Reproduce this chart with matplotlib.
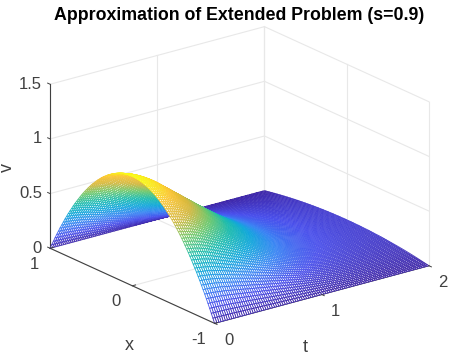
import numpy as np
import matplotlib
matplotlib.use('Agg')
import matplotlib.pyplot as plt
import matplotlib.colors as mcolors
from mpl_toolkits.mplot3d import proj3d

plt.rcParams['font.family'] = ['Liberation Sans', 'DejaVu Sans']

X_PROFILE = [1.000, 1.000, .998, .996, .994, .990, .986, .980, .974, .968,
             .960, .952, .942, .932, .922, .910, .898, .884, .870, .856,
             .840, .824, .806, .788, .770, .750, .730, .708, .686, .664,
             .640, .616, .590, .564, .538, .510, .482, .452, .422, .392,
             .360, .328, .294, .260, .226, .190, .154, .116, .078, .040, 0.0]

# decay of the ridge along t, from t=0 to t=2 (step 0.02)
T_PROFILE = [1.000, .995, .989, .982, .974, .965, .955, .944, .932, .919,
             .905, .890, .874, .858, .842, .826, .810, .794, .778, .762,
             .746, .730, .714, .698, .682, .666, .650, .634, .618, .602,
             .586, .571, .556, .541, .526, .511, .496, .481, .466, .451,
             .437, .423, .409, .395, .382, .369, .356, .343, .331, .319,
             .307, .296, .285, .275, .265, .256, .247, .238, .230, .222,
             .214, .207, .200, .193, .187, .181, .175, .170, .165, .160,
             .155, .151, .147, .143, .139, .135, .132, .129, .126, .123,
             .120, .117, .114, .111, .109, .106, .104, .102, .099, .097,
             .095, .093, .091, .089, .087, .085, .084, .082, .080, .079, .077]

X_TICKS = [-1, 0, 1]
T_TICKS = [0, 1, 2]
Z_TICKS = [0, 0.5, 1, 1.5]
Z_TICK_LABELS = ['0', '0.5', '1', '1.5']

PARULA = ['#3e26a8', '#4a50ec', '#3a86f4', '#12a8dc', '#1cbcae',
          '#6cc86c', '#d4b83e', '#fbc535', '#f9fb15']
GRID = '#e8e8e8'
AXIS = '#404040'

half = np.array(X_PROFILE)
x_prof = np.concatenate([half[::-1], half[1:]])
t_prof = np.array(T_PROFILE)
x = np.linspace(-1, 1, len(x_prof))
t = np.linspace(0, 2, len(t_prof))
T, X = np.meshgrid(t, x)
V = np.outer(x_prof, t_prof)

fig = plt.figure(figsize=(4.74, 3.55), dpi=100)
ax = fig.add_axes([30 / 474, -29.5 / 355, 408 / 474, 408 / 355], projection='3d',
                  proj_type='ortho', computed_zorder=False)
ax.set_box_aspect((270, 270, 175))
ax.view_init(elev=20.5, azim=-127.5)
ax.set_xlim(0, 2)
ax.set_ylim(-1, 1)
ax.set_zlim(0, 1.5)
ax.set_axis_off()
ax.patch.set_alpha(0)

# walls and floor grid, t runs along the mpl x axis
for z in Z_TICKS:
    ax.plot([0, 2], [1, 1], [z, z], color=GRID, lw=0.8, zorder=1)
    ax.plot([2, 2], [1, -1], [z, z], color=GRID, lw=0.8, zorder=1)
for tt in T_TICKS:
    ax.plot([tt, tt], [1, 1], [0, 1.5], color=GRID, lw=0.8, zorder=1)
    ax.plot([tt, tt], [1, -1], [0, 0], color=GRID, lw=0.8, zorder=1)
for xx in X_TICKS:
    ax.plot([2, 2], [xx, xx], [0, 1.5], color=GRID, lw=0.8, zorder=1)
    ax.plot([0, 2], [xx, xx], [0, 0], color=GRID, lw=0.8, zorder=1)

# axis lines
ax.plot([0, 0], [1, 1], [0, 1.5], color=AXIS, lw=0.8, zorder=2)
ax.plot([0, 0], [1, -1], [0, 0], color=AXIS, lw=0.8, zorder=2)
ax.plot([0, 2], [-1, -1], [0, 0], color=AXIS, lw=0.8, zorder=2)

# mesh: white faces with coloured edges
cmap = mcolors.LinearSegmentedColormap.from_list('parula', PARULA)
surf = ax.plot_surface(T, X, V, rcount=len(x), ccount=len(t), color='white', shade=False,
                       linewidth=0.6, antialiased=True, zorder=3)
V_mid = (V[:-1, :-1] + V[1:, :-1] + V[:-1, 1:] + V[1:, 1:]) / 4
surf.set_edgecolors(cmap(mcolors.Normalize(0, 1)(V_mid.ravel())))

# ticks
for z in Z_TICKS:
    ax.plot([0, 0], [1, 1.03], [z, z], color=AXIS, lw=0.7, zorder=4, clip_on=False)
for xx in X_TICKS:
    ax.plot([0, 0.03], [xx, xx], [0, 0], color=AXIS, lw=0.7, zorder=4)
for tt in T_TICKS:
    ax.plot([tt, tt], [-1, -1.03], [0, 0], color=AXIS, lw=0.7, zorder=4, clip_on=False)


def tick_label(t3, x3, z3, label, dx, dy, ha):
    # projected to the 2D view, then a fixed number of pixels off the axis
    px, py, _ = proj3d.proj_transform(t3, x3, z3, ax.get_proj())
    ax.annotate(label, (px, py), xytext=(dx, dy), textcoords='offset pixels', ha=ha, va='center',
                fontsize=12, color=AXIS, annotation_clip=False)


for z, lab in zip(Z_TICKS, Z_TICK_LABELS):
    tick_label(0, 1, z, lab, -8, 0, 'right')
for xx in X_TICKS:
    tick_label(0, xx, 0, str(xx), -16, -16, 'center')
for tt in T_TICKS:
    tick_label(tt, -1, 0, str(tt), 14, -17, 'center')

fig.text(129 / 474, 1 - 345 / 355, 'x', ha='center', va='center', fontsize=13, color=AXIS)
fig.text(305 / 474, 1 - 348 / 355, 't', ha='center', va='center', fontsize=13, color=AXIS)
fig.text(7 / 474, 1 - 168 / 355, 'v', ha='center', va='center', rotation=90, fontsize=13, color=AXIS)
fig.text(239 / 474, 1 - 16 / 355, 'Approximation of Extended Problem (s=0.9)',
         ha='center', va='center', fontsize=12.8, fontweight='bold', color='black')

fig.savefig('out.png', dpi=100)
